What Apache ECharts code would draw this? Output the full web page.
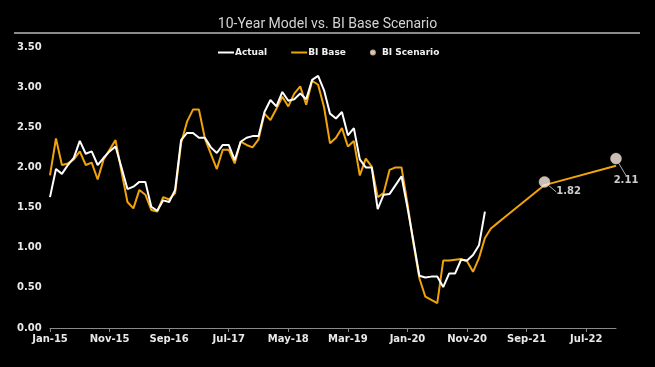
<!DOCTYPE html>
<html><head><meta charset="utf-8">
<script src="https://cdn.jsdelivr.net/npm/echarts@6/dist/echarts.min.js"></script>
<style>html,body{margin:0;padding:0;background:#000}#c{width:655px;height:367px}</style>
</head><body><div id="c"></div>
<script>
const monthNames = ['Jan','Feb','Mar','Apr','May','Jun','Jul','Aug','Sep','Oct','Nov','Dec'];
const years = ['15','16','17','18','19','20','21','22'];
const categories = [];
years.forEach(y => monthNames.forEach(m => categories.push(m + '-' + y)));

const actual = [
  1.63,1.98,1.92,2.03,2.12,2.33,2.17,2.20,2.03,2.12,
  2.20,2.26,2.00,1.73,1.76,1.82,1.82,1.51,1.46,1.59,
  1.57,1.72,2.34,2.43,2.43,2.37,2.37,2.25,2.18,2.28,
  2.28,2.09,2.32,2.37,2.39,2.39,2.69,2.84,2.76,2.94,
  2.83,2.85,2.92,2.85,3.09,3.14,2.96,2.67,2.61,2.69,
  2.40,2.49,2.10,2.00,2.00,1.48,1.66,1.67,1.78,1.89,
  1.50,1.08,0.65,0.63,0.64,0.64,0.51,0.68,0.68,0.85,
  0.84,0.91,1.03,1.45
];

const biBase = [
  1.90,2.36,2.03,2.05,2.10,2.20,2.03,2.06,1.85,2.10,
  2.22,2.34,1.95,1.57,1.49,1.72,1.66,1.47,1.45,1.63,
  1.60,1.68,2.30,2.57,2.72,2.72,2.36,2.17,1.98,2.22,
  2.22,2.05,2.32,2.28,2.25,2.35,2.67,2.59,2.73,2.88,
  2.76,2.92,3.01,2.78,3.08,3.03,2.75,2.30,2.37,2.49,
  2.26,2.33,1.90,2.11,2.01,1.63,1.68,1.97,2.00,2.00,
  1.55,1.05,0.62,0.39,0.35,0.31,0.84,0.84,0.85,0.86,
  0.83,0.70,0.87,1.12,1.24,1.30,1.36,null,null,null,
  null,null,null,1.78,null,null,null,null,null,null,
  null,null,null,null,null,2.02
];

const scenarioDates = ['Dec-21','Dec-22'];
const scenarioValues = [1.82, 2.11];
const scenarioLabelOffsets = [[24, 10], [10, 22]];

const yMin = 0, yMax = 3.5, yStep = 0.5;

const chart = echarts.init(document.getElementById('c'), null, {renderer: 'canvas'});
const labelFont = {color: '#e8e8e8', fontFamily: 'DejaVu Sans', fontWeight: 'bold', fontSize: 10};

chart.setOption({
  backgroundColor: '#000',
  animation: false,
  title: {
    text: '10-Year Model vs. BI Base Scenario',
    left: 'center', top: 12,
    textStyle: {color: '#d4d4d4', fontFamily: 'Roboto', fontWeight: 'normal', fontSize: 14}
  },
  graphic: [{
    type: 'rect', shape: {x: 14, y: 32, width: 626, height: 2},
    style: {fill: '#8a8a8a'}, silent: true
  }],
  legend: {
    left: 213, top: 43,
    itemWidth: 16, itemHeight: 4, itemGap: 24,
    textStyle: {color: '#f0f0f0', fontFamily: 'DejaVu Sans', fontWeight: 'bold', fontSize: 9, padding: [0, 0, 0, -4]},
    data: [
      {name: 'Actual', icon: 'path://M0,0H8V1H0Z'},
      {name: 'BI Base', icon: 'path://M0,0H8V1H0Z'},
      {name: 'BI Scenario', icon: 'circle'}
    ]
  },
  grid: {left: 50, right: 39, top: 47, bottom: 39},
  xAxis: {
    type: 'category', data: categories, boundaryGap: false,
    axisLine: {lineStyle: {color: '#8a8a8a', width: 1}},
    axisTick: {interval: 9, length: 4, lineStyle: {color: '#8a8a8a'}},
    axisLabel: Object.assign({interval: 9, margin: 6}, labelFont),
    splitLine: {show: false}
  },
  yAxis: {
    type: 'value', min: yMin, max: yMax, interval: yStep,
    axisLine: {show: false}, axisTick: {show: false},
    splitLine: {show: false},
    axisLabel: Object.assign({align: 'left', margin: 33, formatter: v => v.toFixed(2)}, labelFont)
  },
  series: [
    {
      name: 'BI Base', type: 'line', data: biBase, connectNulls: true,
      showSymbol: false, symbol: 'none',
      lineStyle: {color: '#f0a30a', width: 2}, itemStyle: {color: '#f0a30a'}, z: 2
    },
    {
      name: 'Actual', type: 'line', data: actual,
      showSymbol: false, symbol: 'none',
      lineStyle: {color: '#ffffff', width: 2}, itemStyle: {color: '#ffffff'}, z: 3
    },
    {
      name: 'BI Scenario', type: 'scatter',
      data: scenarioDates.map((d, i) => [d, scenarioValues[i]]),
      symbolSize: 11,
      itemStyle: {color: '#fcefe3', borderColor: '#e6cdb5', borderWidth: 0.5},
      label: Object.assign({show: true, position: 'inside', formatter: p => p.value[1].toFixed(2)}, labelFont, {color: '#ffffff'}),
      labelLayout: p => ({dx: scenarioLabelOffsets[p.dataIndex][0], dy: scenarioLabelOffsets[p.dataIndex][1]}),
      labelLine: {show: true, lineStyle: {color: '#b0b0b0', width: 1}},
      z: 4
    }
  ]
});
</script>
</body></html>
